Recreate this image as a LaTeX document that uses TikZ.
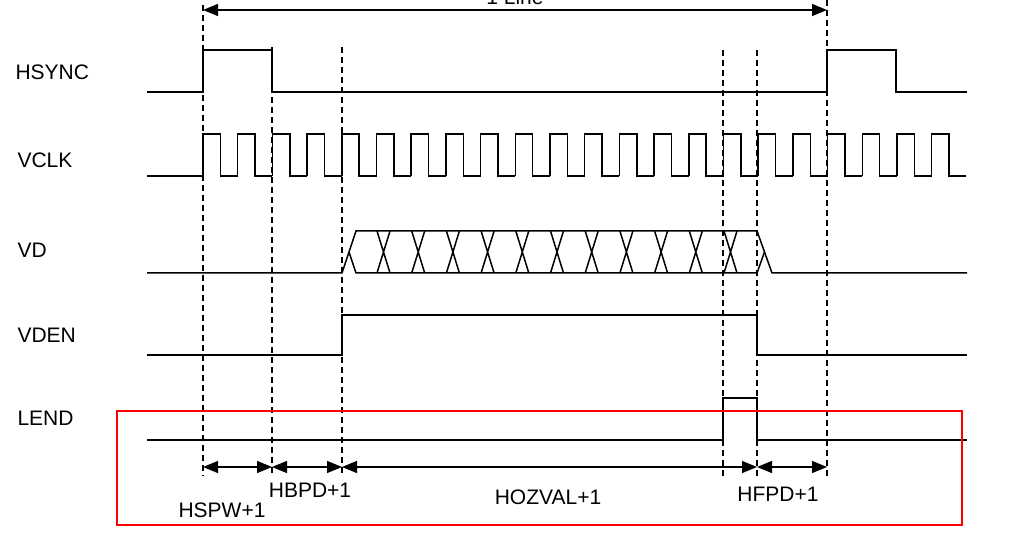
\documentclass[tikz,border=0pt]{standalone}
\usepackage{fontspec}
\setmainfont{Liberation Sans}
\usetikzlibrary{arrows.meta,positioning}

\begin{document}
\begin{tikzpicture}[
    x=1pt, y=-1pt,
    wave/.style={draw=black, line width=1.5pt},
    timeline/.style={draw=black, line width=1.3pt, dash pattern=on 6pt off 4pt},
    span/.style={draw=black, line width=1.3pt, {Triangle[length=15pt,width=12pt]}-{Triangle[length=15pt,width=12pt]}},
    sig/.style={anchor=west, font=\fontsize{21}{25}\selectfont},
    lbl/.style={font=\fontsize{21}{25}\selectfont}
  ]
    \useasboundingbox (0,0) rectangle (1010,534);
    \clip (0,0) rectangle (1010,534);
    % signal names
    \node [sig] (hsync) at (12,72) {HSYNC};
    \node [sig] (vclk) at (14,160) {VCLK};
    \node [sig] (vd) at (14,250) {VD};
    \node [sig] (vden) at (14,335) {VDEN};
    \node [sig] (lend) at (14,418) {LEND};

    % time marks
    \foreach \n/\x/\t in {a/203/5, b/272/47, c/342/47, d/723/50, e/757/50, f/827/0} {
      \coordinate (\n top) at (\x,\t);
      \coordinate (\n) at (\x,467);
      \path [timeline] (\n top) -- (\x,476);
    }

    % HSYNC
    \path [wave] (147,92) -- (203,92) -- (203,50) -- (272,50) -- (272,92) -- (827,92)
      -- (827,50) -- (896,50) -- (896,92) -- (967,92);
    % VCLK
    \path [wave] (147,176) -- (203,176);
    \foreach \k in {0,...,21}
      \path [wave] ({203+34.7*\k},176) -- ++(0,-42) -- ++(17.35,0) -- ++(0,42) -- ++(17.35,0);
    % VD
    \path [wave] (147,273) -- (342,273) -- (356,231) -- (757,231) -- (772,273) -- (967,273);
    \path [wave] (349,252) -- (356,273) -- (757,273) -- (764.5,252);
    \foreach \k in {0,...,10}
      \path [wave] ({377+34.7*\k},231) -- ++(13,42) ++(-13,0) -- ++(13,-42);
    % VDEN
    \path [wave] (147,355) -- (342,355) -- (342,315) -- (757,315) -- (757,355) -- (967,355);
    % LEND
    \path [wave] (147,440) -- (723,440) -- (723,398) -- (757,398) -- (757,440) -- (967,440);

    % spans
    \coordinate (ltop) at (203,10);
    \coordinate (rtop) at (827,10);
    \path [span] (ltop) -- node [lbl, above=1pt] {1 Line} (rtop);
    \path [span] (a) -- (b);
    \path [span] (b) -- (c);
    \path [span] (c) -- (e);
    \path [span] (e) -- (f);
    \node [lbl] (hspw) at (222,510) {HSPW+1};
    \node [lbl] (hbpd) at (310,490) {HBPD+1};
    \node [lbl] (hozval) at (548,497) {HOZVAL+1};
    \node [lbl] (hfpd) at (778,494) {HFPD+1};

    % highlight box
    \draw [red, line width=1.5pt] (117,411) rectangle (962,525);
\end{tikzpicture}
\end{document}
